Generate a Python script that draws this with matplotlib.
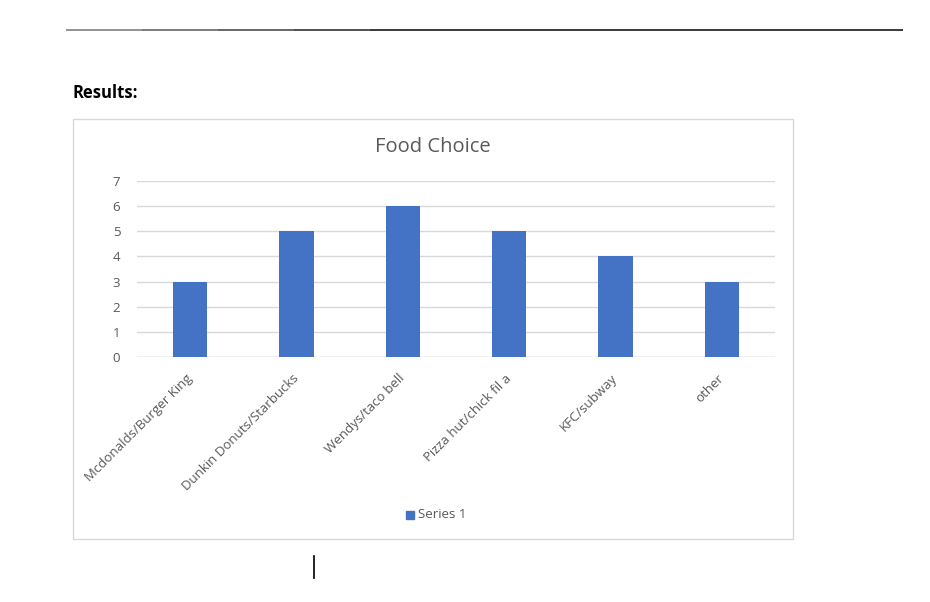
import numpy as np
import matplotlib.pyplot as plt
from matplotlib.patches import Rectangle
from matplotlib.lines import Line2D

# Données du graphique
categories = ["Mcdonalds/Burger King", "Dunkin Donuts/Starbucks", "Wendys/taco bell",
              "Pizza hut/chick fil a", "KFC/subway", "other"]
values = [3, 5, 6, 5, 4, 3]
yticks = [0, 1, 2, 3, 4, 5, 6, 7]

W, H = 930, 602
fig = plt.figure(figsize=(W / 100, H / 100), dpi=100)
plt.rcParams['font.family'] = ['Open Sans', 'DejaVu Sans']

def fx(px):
    return px / W

def fy(py):
    return 1 - py / H

# Ligne du haut de la page (dégradé gris -> noir)
xs = np.linspace(66, 903, 12)
for i in range(len(xs) - 1):
    g = 0.5 - 0.4 * min(1, i / 4)
    fig.add_artist(Line2D([fx(xs[i]), fx(xs[i + 1])], [fy(30), fy(30)],
                          color=(g, g, g), lw=1.2, solid_capstyle='butt'))

# Titre de section
fig.text(fx(73), fy(93), "Results:", fontsize=12, fontweight='bold', va='center', ha='left')

# Cadre du graphique
fig.add_artist(Rectangle((fx(73), fy(539)), fx(793) - fx(73), fy(119) - fy(539),
                         fill=False, edgecolor='#d9d9d9', lw=1))

# Axes
ax = fig.add_axes([fx(137), fy(357), fx(775) - fx(137), fy(181) - fy(357)])
x = range(len(categories))
ax.bar(x, values, width=0.32, color='#4472c4', zorder=3)
ax.set_xlim(-0.5, len(categories) - 0.5)
ax.set_ylim(0, 7)
ax.set_yticks(yticks)
ax.set_yticklabels([str(t) for t in yticks], color='#595959', fontsize=9.5)
ax.set_xticks(list(x))
ax.set_xticklabels(categories, rotation=45, ha='right', va='center', rotation_mode='anchor',
                   color='#595959', fontsize=9.5)
ax.tick_params(axis='both', length=0)
ax.tick_params(axis='y', pad=12)
ax.tick_params(axis='x', pad=14)
ax.grid(axis='y', color='#d9d9d9', lw=1, zorder=0)
for s in ax.spines.values():
    s.set_visible(False)
ax.axhline(0, color='#d9d9d9', lw=1, zorder=2)

fig.text(fx(433), fy(147), "Food Choice", fontsize=14.5, color='#595959', ha='center', va='center')

# Légende
fig.add_artist(Rectangle((fx(406), fy(519)), 8 / W, 8 / H, color='#4472c4'))
fig.text(fx(418), fy(515), "Series 1", fontsize=9.5, color='#595959', ha='left', va='center')

# Curseur
fig.add_artist(Line2D([fx(314), fx(314)], [fy(556), fy(578)], color='black', lw=1.2))

fig.savefig("out.png", dpi=100)
